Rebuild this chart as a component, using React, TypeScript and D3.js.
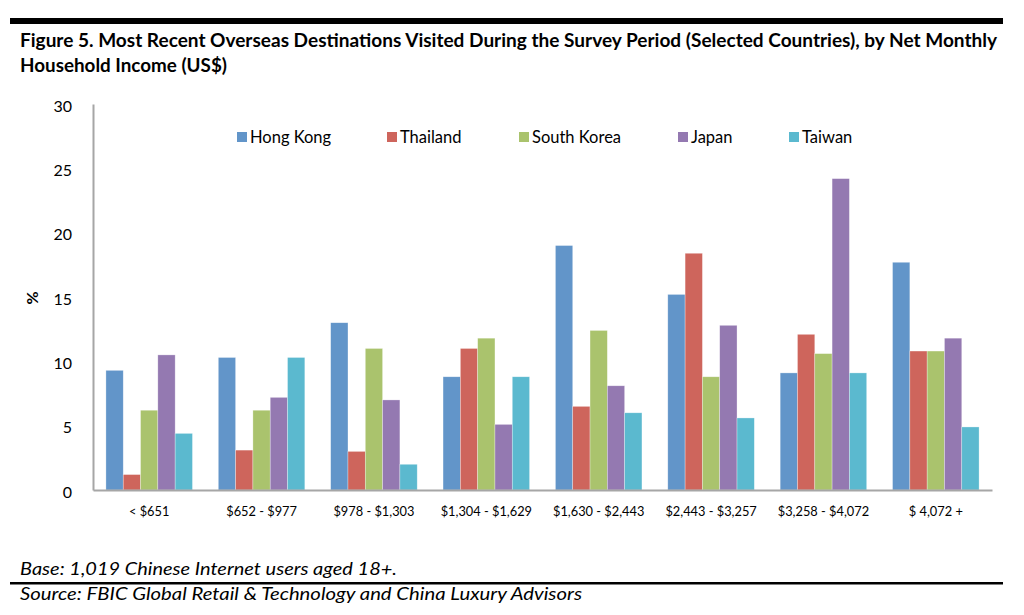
import React, { useEffect, useRef } from "react";
import * as d3 from "d3";

const categories = [
  "< $651",
  "$652 - $977",
  "$978 - $1,303",
  "$1,304 - $1,629",
  "$1,630 - $2,443",
  "$2,443 - $3,257",
  "$3,258 - $4,072",
  "$ 4,072 +",
];
const seriesNames = ["Hong Kong", "Thailand", "South Korea", "Japan", "Taiwan"];
const hongKong = [9.3, 10.3, 13.0, 8.8, 19.0, 15.2, 9.1, 17.7];
const thailand = [1.2, 3.1, 3.0, 11.0, 6.5, 18.4, 12.1, 10.8];
const southKorea = [6.2, 6.2, 11.0, 11.8, 12.4, 8.8, 10.6, 10.8];
const japan = [10.5, 7.2, 7.0, 5.1, 8.1, 12.8, 24.2, 11.8];
const taiwan = [4.4, 10.3, 2.0, 8.8, 6.0, 5.6, 9.1, 4.9];
const yTicks = [0, 5, 10, 15, 20, 25, 30];

const colors = ["#6295c9", "#ce655c", "#aac36d", "#9479b1", "#5bb9cf"];
const FONT = "Lato, 'Open Sans', sans-serif";

export default function App() {
  const svgRef = useRef<SVGSVGElement>(null);

  useEffect(() => {
    const svg = d3.select(svgRef.current);
    svg.selectAll("*").remove();

    const values = [hongKong, thailand, southKorea, japan, taiwan];
    const rows = categories.map((c, i) => ({
      name: c,
      vals: seriesNames.map((s, j) => ({ key: s, idx: j, v: values[j][i] })),
    }));

    const x0 = d3.scaleBand().domain(categories).range([93, 992]).paddingInner(0.23).paddingOuter(0.115);
    const x1 = d3.scaleBand().domain(seriesNames).range([0, x0.bandwidth()]).padding(0);
    const y = d3.scaleLinear().domain([0, 30]).range([490, 104]);

    // header rule + title
    svg.append("rect").attr("x", 10).attr("y", 18).attr("width", 993).attr("height", 6).attr("fill", "#000");
    const title = svg.append("g").attr("font-family", FONT).attr("font-weight", "bold").attr("font-size", 18).attr("fill", "#000");
    title.append("text").attr("x", 20).attr("y", 47)
      .attr("textLength", 977).attr("lengthAdjust", "spacingAndGlyphs")
      .text("Figure 5. Most Recent Overseas Destinations Visited During the Survey Period (Selected Countries), by Net Monthly");
    title.append("text").attr("x", 20).attr("y", 72)
      .attr("textLength", 207).attr("lengthAdjust", "spacingAndGlyphs")
      .text("Household Income (US$)");

    // bars
    svg.append("g")
      .selectAll("g")
      .data(rows)
      .join("g")
      .attr("transform", (d) => `translate(${x0(d.name)},0)`)
      .selectAll("rect")
      .data((d) => d.vals)
      .join("rect")
      .attr("x", (d) => x1(d.key)!)
      .attr("width", x1.bandwidth())
      .attr("y", (d) => y(d.v))
      .attr("height", (d) => y(0) - y(d.v))
      .attr("fill", (d) => colors[d.idx])
      .attr("stroke", "rgba(255,255,255,0.5)")
      .attr("stroke-width", 0.6);

    // axes
    const yAxis = svg.append("g").attr("transform", "translate(93,0)")
      .call(d3.axisLeft(y).tickValues(yTicks).tickSize(0).tickSizeOuter(0).tickPadding(21));
    yAxis.select(".domain").attr("stroke", "#a6a6a6").attr("stroke-width", 2);
    yAxis.selectAll("text").attr("font-family", FONT).attr("font-size", 16).attr("fill", "#000").attr("dy", "0.45em");

    const xAxis = svg.append("g").attr("transform", "translate(0,490)")
      .call(d3.axisBottom(x0).tickSize(0).tickSizeOuter(0).tickPadding(17));
    xAxis.select(".domain").attr("stroke", "#a6a6a6").attr("stroke-width", 2);
    xAxis.selectAll("text").attr("font-family", FONT).attr("font-size", 12.8).attr("fill", "#000");

    svg.append("text")
      .attr("transform", "translate(38,298) rotate(-90)")
      .attr("text-anchor", "middle")
      .attr("font-family", FONT).attr("font-weight", "bold").attr("font-size", 16)
      .text("%");

    // legend
    const legendX = [237, 387, 519, 678, 789];
    const legend = svg.append("g").selectAll("g").data(seriesNames).join("g")
      .attr("transform", (d, i) => `translate(${legendX[i]},132)`);
    legend.append("rect").attr("width", 10).attr("height", 10).attr("fill", (d, i) => colors[i]);
    legend.append("text").attr("x", 13).attr("y", 11)
      .attr("font-family", FONT).attr("font-size", 16.5).attr("fill", "#000")
      .text((d) => d);

    // footer
    const foot = svg.append("g").attr("font-family", FONT).attr("font-style", "italic").attr("font-size", 17).attr("fill", "#000");
    foot.append("text").attr("x", 20).attr("y", 575)
      .attr("textLength", 377).attr("lengthAdjust", "spacingAndGlyphs")
      .text("Base: 1,019 Chinese Internet users aged 18+.");
    svg.append("rect").attr("x", 10).attr("y", 582).attr("width", 993).attr("height", 2.5).attr("fill", "#000");
    foot.append("text").attr("x", 20).attr("y", 600)
      .attr("textLength", 562).attr("lengthAdjust", "spacingAndGlyphs")
      .text("Source: FBIC Global Retail & Technology and China Luxury Advisors");
  }, []);

  return (
    <svg
      ref={svgRef}
      width={1024}
      height={615}
      style={{ position: "absolute", left: 0, top: 0, background: "#fff" }}
    />
  );
}
